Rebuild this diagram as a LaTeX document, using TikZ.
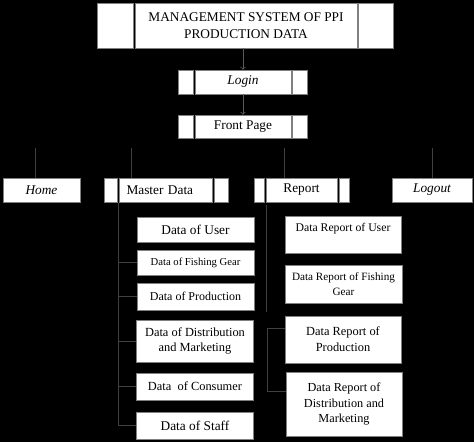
\documentclass[tikz,border=0pt]{standalone}
\usepackage{fontspec}
\setmainfont{Liberation Serif}
\usetikzlibrary{arrows}

\begin{document}
\begin{tikzpicture}[x=0.75pt, y=-0.75pt,
    box/.style={rectangle, draw=black!50, fill=white, inner sep=0pt, align=center, font=\fontsize{10}{13}\selectfont},
    sz/.style 2 args={minimum width=#1*0.75pt, minimum height=#2*0.75pt},
    link/.style={draw=gray!50!black, line width=0.75pt},
    arr/.style={->, draw=gray!70!black, line width=0.6pt}]
    \fill[black] (0,0) rectangle (474,442);

    % top of the menu
    \node[box, sz={36}{45}] (titleL) at (115,25.5) {};
    \node[box, sz={222}{45}] (title) at (246,25.5) {MANAGEMENT SYSTEM OF PPI\\PRODUCTION DATA};
    \node[box, sz={35}{45}] (titleR) at (375.5,25.5) {};
    \node[box, sz={15}{24}] (loginL) at (185.5,82) {};
    \node[box, sz={96}{24}] (login) at (243,82) {\itshape Login};
    \node[box, sz={15}{24}] (loginR) at (299.5,82) {};
    \node[box, sz={15}{23}] (frontL) at (185.5,126.5) {};
    \node[box, sz={96}{23}] (front) at (243,126.5) {Front Page};
    \node[box, sz={15}{23}] (frontR) at (299.5,126.5) {};

    % main menu
    \node[box, sz={77}{24}] (home) at (41.5,190) {\itshape Home};
    \node[box, sz={13}{24}] (masterL) at (110.5,190) {};
    \node[box, sz={93}{24}, text width=78*0.75pt, align=left] (master) at (165.5,190) {Master Data};
    \node[box, sz={14}{24}] (masterR) at (221,190) {};
    \node[box, sz={10}{24}] (reportL) at (259,190) {};
    \node[box, sz={71}{24}] (report) at (301.5,190) {Report};
    \node[box, sz={10}{24}] (reportR) at (344,190) {};
    \node[box, sz={80}{24}] (logout) at (432,190) {\itshape Logout};

    % master data
    \node[box, sz={117}{25}] (user) at (195.5,229.5) {Data of User};
    \node[box, sz={117}{25}, font=\fontsize{8}{10}\selectfont] (fish) at (195.5,262.5) {Data of Fishing Gear};
    \node[box, sz={117}{27}, font=\fontsize{9}{11}\selectfont] (prod) at (195.5,296.5) {Data of Production};
    \node[box, sz={117}{42}, font=\fontsize{9.3}{11.5}\selectfont] (dist) at (195,341) {Data of Distribution\\and Marketing};
    \node[box, sz={117}{27}, font=\fontsize{9.3}{11}\selectfont] (cons) at (195,386.5) {Data~ of Consumer};
    \node[box, sz={117}{27}] (staff) at (195,425.5) {Data of Staff};

    % report
    \node[box, sz={116}{37}, font=\fontsize{8.8}{11}\selectfont] (ruser) at (343,234.5) {Data Report of User\\\mbox{}};
    \node[box, sz={117}{38}, font=\fontsize{8.4}{11}\selectfont] (rfish) at (343.5,284) {Data Report of Fishing\\Gear};
    \node[box, sz={116}{47}, font=\fontsize{9.3}{12}\selectfont] (rprod) at (343,339.5) {Data Report of\\Production};
    \node[box, sz={116}{64}, font=\fontsize{9.2}{12}\selectfont] (rdist) at (344,404) {Data Report of\\Distribution and\\Marketing};

    \draw[arr] (title.south -| login.north) -- (login.north);
    \draw[arr] (login.south) -- (front.north);

    \coordinate (s1) at (35,148);
    \coordinate (s2) at (131,148);
    \coordinate (s3) at (284,148);
    \coordinate (s4) at (432,148);
    \draw[link] (s1) -- (s1 |- home.north);
    \draw[link] (s2) -- (s2 |- master.north);
    \draw[link] (s3) -- (s3 |- report.north);
    \draw[link] (s4) -- (s4 |- logout.north);

    \coordinate (mtop) at (118,203);
    \draw[link] (mtop) -- (mtop |- staff.west) -- (staff.west);
    \foreach \n in {fish,prod,dist,cons}
        \draw[link] (mtop |- \n.west) -- (\n.west);

    \coordinate (rtop) at (266,205);
    \coordinate (rend) at (266,312);
    \draw[link] (rtop) -- (rend);
    \coordinate (b1) at (267,328);
    \coordinate (b2) at (267,391);
    \draw[link] (rprod.west |- b1) -- (b1) -- (b2) -- (rdist.west |- b2);
\end{tikzpicture}
\end{document}
